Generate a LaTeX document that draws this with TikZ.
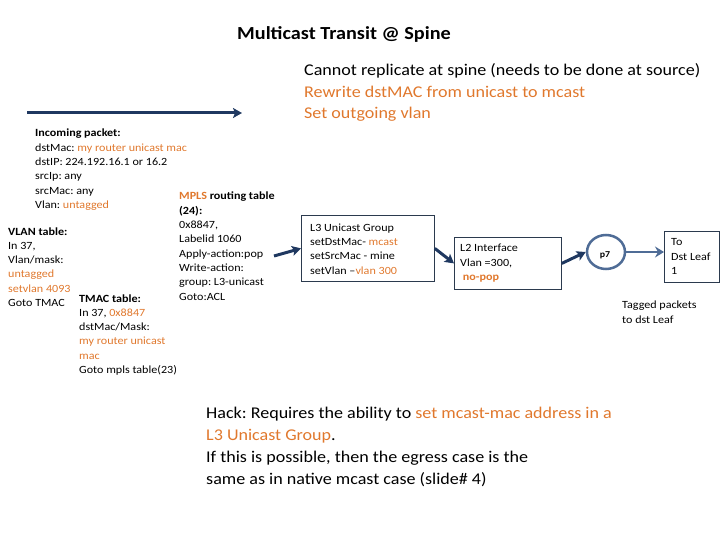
\documentclass[tikz,border=0pt]{standalone}
\usepackage{fontspec}
\setmainfont{Carlito}[FakeStretch=1.1]
\usetikzlibrary{arrows.meta,shapes.geometric}
\definecolor{org}{HTML}{E0782D}
\definecolor{navy}{HTML}{1F3860}
\definecolor{steel}{HTML}{4F6C96}
\definecolor{edge}{HTML}{2B3A4E}
\frenchspacing
\tikzset{
 small/.style={font=\fontsize{11}{14.3}\selectfont, align=left, anchor=base west, inner sep=0pt},
 big/.style={font=\fontsize{16.4}{21.5}\selectfont, align=left, anchor=base west, inner sep=0pt},
 box/.style={draw=edge, line width=0.8pt, anchor=north west, inner sep=0pt},
 navyarrow/.style={draw=navy, line width=3pt, -{Stealth[length=9pt,width=10pt,inset=2pt]}},
 steelarrow/.style={draw=steel, line width=2.5pt, -{Stealth[length=9pt,width=11pt,inset=3pt]}},
}
\begin{document}
\begin{tikzpicture}[x=1pt,y=-1pt]
\useasboundingbox (0,0) rectangle (720,540);
\node[font=\fontsize{18.4}{20}\selectfont\bfseries, anchor=base, inner sep=0pt] (title) at (344,40) {Multicast Transit @ Spine};

% anchor base = baseline of the last line
\node[big] (note) at (304,119) {Cannot replicate at spine (needs to be done at source)\\
\textcolor{org}{Rewrite dstMAC from unicast to mcast}\\
\textcolor{org}{Set outgoing vlan}};

\coordinate (a0) at (27,113);
\coordinate (a1) at (242,113);
\draw[navyarrow] (a0) -- (a1);

\node[small] (incoming) at (35,208.5) {\textbf{Incoming packet:}\\
dstMac: \textcolor{org}{my router unicast mac}\\
dstIP: 224.192.16.1 or 16.2\\
srcIp: any\\
srcMac: any\\
Vlan: \textcolor{org}{untagged}};

\node[small] (mpls) at (179,300) {\textbf{\textcolor{org}{MPLS} routing table}\\
\textbf{(24):}\\
0x8847,\\
Labelid 1060\\
Apply-action:pop\\
Write-action:\\
group: L3-unicast\\
Goto:ACL};

\node[small] (vlan) at (8,306.5) {\textbf{VLAN table:}\\
In 37,\\
Vlan/mask:\\
\textcolor{org}{untagged}\\
\textcolor{org}{setvlan 4093}\\
Goto TMAC};

\node[small] (tmac) at (79,373.5) {\textbf{TMAC table:}\\
In 37, \textcolor{org}{0x8847}\\
dstMac/Mask:\\
\textcolor{org}{my router unicast}\\
\textcolor{org}{mac}\\
Goto mpls table(23)};

\node[box, minimum width=133pt, minimum height=66pt] (l3) at (301,215) {};
\node[small] (l3t) at (310,274) {L3 Unicast Group\\
setDstMac- \textcolor{org}{mcast}\\
setSrcMac - mine\\
setVlan --\textcolor{org}{vlan 300}};

\node[box, minimum width=107pt, minimum height=52pt] (l2) at (454,237) {};
\node[small] (l2t) at (460,280.5) {L2 Interface\\
Vlan =300,\\
\ \textcolor{org}{\textbf{no-pop}}};

\node[draw=steel, line width=2.5pt, ellipse, minimum width=38pt, minimum height=34pt, inner sep=0pt] (p7) at (606,252) {};
\node[font=\fontsize{9}{10}\selectfont\bfseries, inner sep=0pt] (p7t) at (605,255) {p7};

\node[box, minimum width=55pt, minimum height=51pt] (dst) at (664,231) {};
\node[small] (dstt) at (671,274.5) {To\\Dst Leaf\\1};

\node[small] (tagged) at (622,323) {Tagged packets\\to dst Leaf};

\coordinate (b0) at (274,256);
\draw[navyarrow] (b0) -- (l3.west);
\draw[navyarrow] (l3.east) -- (l2.west);
\draw[navyarrow] (l2.east) -- (p7.west);
\draw[steelarrow] (p7.east) -- (dst.west |- p7.east);

\node[big, font=\fontsize{16.4}{22}\selectfont] (hack) at (206,484) {Hack: Requires the ability to \textcolor{org}{set mcast-mac address in a}\\
\textcolor{org}{L3 Unicast Group}.\\
If this is possible, then the egress case is the\\
same as in native mcast case (slide\# 4)};
\end{tikzpicture}
\end{document}
